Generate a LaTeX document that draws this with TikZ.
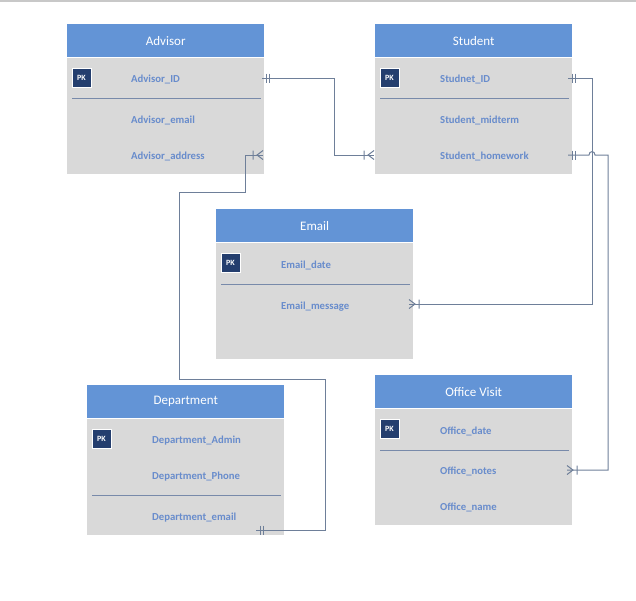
\documentclass[tikz,border=0pt]{standalone}
\usepackage{fontspec}
\setmainfont{Carlito}
\definecolor{hdrblue}{RGB}{99,148,214}
\definecolor{bodygray}{RGB}{217,217,217}
\definecolor{pknavy}{RGB}{36,62,110}
\definecolor{attrblue}{RGB}{104,140,204}
\definecolor{linegray}{RGB}{110,127,153}
\definecolor{sepgray}{RGB}{120,138,170}
\definecolor{topgray}{RGB}{200,200,200}
\tikzset{
  hdr/.style={fill=hdrblue, text=white, minimum width=197pt, minimum height=33pt,
    inner sep=0pt, anchor=north west, font=\fontsize{13}{15}\selectfont},
  bodybox/.style={fill=bodygray, minimum width=197pt, minimum height=116pt,
    inner sep=0pt, anchor=north west},
  pk/.style={fill=pknavy, draw=white, line width=1pt, text=white, minimum size=19pt,
    inner sep=0pt, font=\fontsize{8}{9}\bfseries\selectfont},
  attr/.style={anchor=west, inner sep=0pt, text=attrblue, yshift=-1.5pt,
    font=\fontsize{10.7}{12}\bfseries\selectfont},
  sep/.style={draw=sepgray, line width=1pt},
  conn/.style={draw=linegray, line width=1pt},
  onemark/.pic={\draw[conn] (4,-4.5)--(4,4.5) (7,-4.5)--(7,4.5);},
  manymark/.pic={\draw[conn] (0,-4.5)--(6,0)--(0,4.5) (10,-4.5)--(10,4.5);},
}
\newcommand\entbox[4]{%
  \node[hdr] (#1-h) at (#2,#3) {\raisebox{-1pt}{#4}};
  \node[bodybox] (#1-b) at (#2,#3+34) {};
  \node[pk] (#1-pk) at (#2+14.5,#3+54) {PK};
}
\begin{document}
\begin{tikzpicture}[x=1pt,y=-1pt]
\useasboundingbox (0,0) rectangle (636,600);
\draw[draw=topgray, line width=1.5pt] (0,0.75) -- (636,0.75);

% Advisor
\entbox{adv}{67}{24}{Advisor}
\node[attr] (adv-a1) at (131,78) {Advisor\_ID};
\draw[sep] (72,98) -- (261,98);
\node[attr] (adv-a2) at (131,119) {Advisor\_email};
\node[attr] (adv-a3) at (131,155) {Advisor\_address};

% Student
\entbox{stu}{375}{24}{Student}
\node[attr] (stu-a1) at (440,78) {Studnet\_ID};
\draw[sep] (380,98) -- (569,98);
\node[attr] (stu-a2) at (440,119) {Student\_midterm};
\node[attr] (stu-a3) at (440,155) {Student\_homework};

% Email
\entbox{em}{216}{209}{Email}
\node[attr] (em-a1) at (281,264) {Email\_date};
\draw[sep] (221,284) -- (410,284);
\node[attr] (em-a2) at (281,305) {Email\_message};

% Department
\entbox{dep}{87}{385}{Department}
\node[attr] (dep-a1) at (152,439) {Department\_Admin};
\node[attr] (dep-a2) at (152,475) {Department\_Phone};
\draw[sep] (92,495) -- (281,495);
\node[attr] (dep-a3) at (152,516) {Department\_email};

% Office Visit
\entbox{off}{375}{375}{Office Visit}
\node[attr] (off-a1) at (440,430) {Office\_date};
\draw[sep] (380,450) -- (569,450);
\node[attr] (off-a2) at (440,470) {Office\_notes};
\node[attr] (off-a3) at (440,506) {Office\_name};

% connector end points
\coordinate (advID) at (262,78);
\coordinate (advAddr) at (263,155);
\coordinate (stuHWl) at (374,155);
\coordinate (stuID) at (568,78);
\coordinate (stuHW) at (568,155);
\coordinate (emMsg) at (409,304);
\coordinate (offNotes) at (567,470);
\coordinate (depEmail) at (256,530);

% Advisor_ID -- Student_homework
\draw[conn] (advID) -- (334,78) |- (stuHWl);
\pic at (advID) {onemark};
\pic[rotate=180] at (stuHWl) {manymark};

% Advisor_address -- Department_email
\draw[conn] (advAddr) -- (245,155) -- (245,192) -- (179,192) -- (179,379)
  -- (325,379) -- (325,530) -- (depEmail);
\pic[rotate=180] at (advAddr) {manymark};
\pic at (depEmail) {onemark};

% Studnet_ID -- Email_message
\draw[conn] (stuID) -- (592,78) |- (emMsg);
\pic at (stuID) {onemark};
\pic at (emMsg) {manymark};

% Student_homework -- Office_notes (with a hop over the other line)
\draw[conn] (stuHW) -- (589,155) .. controls (589,150.5) and (595,150.5) .. (595,155)
  -- (608,155) |- (offNotes);
\pic at (stuHW) {onemark};
\pic at (offNotes) {manymark};
\end{tikzpicture}
\end{document}
